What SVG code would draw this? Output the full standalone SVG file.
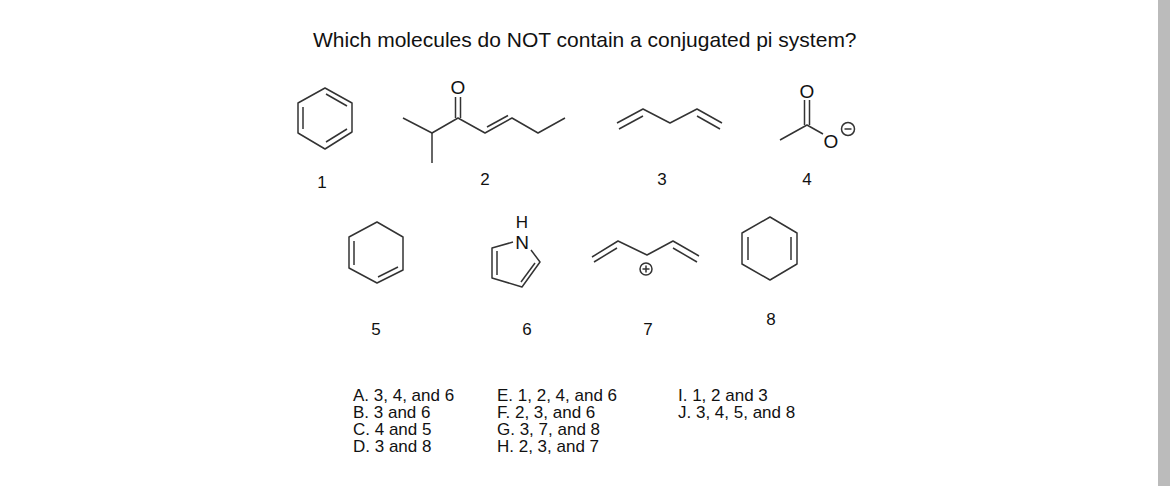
<svg xmlns="http://www.w3.org/2000/svg" width="1170" height="486" viewBox="0 0 1170 486">
<style>
.b{stroke:#333;stroke-width:1.5;fill:none;stroke-linejoin:round}
text{font-family:"Liberation Sans",Arial,sans-serif;fill:#111}
.t{font-size:21px}
.l{font-size:17px;text-anchor:middle}
.a{font-size:17px}
.at{font-size:19px;text-anchor:middle}
.hs{font-size:17px;text-anchor:middle}
</style>
<rect width="1170" height="486" fill="#fff"/>
<rect x="1158" y="0" width="12" height="486" fill="#bbb"/>
<text class="t" x="313" y="47">Which molecules do NOT contain a conjugated pi system?</text>
<g id="m1" class="b">
<polygon points="325,88 352,103 352,132 325,149 298,133 298,103"/>
<line x1="303" y1="107" x2="303" y2="129"/><line x1="326" y1="94" x2="347" y2="106"/><line x1="347" y1="129" x2="326" y2="142"/>
</g>
<text class="l" x="322" y="188">1</text>
<g id="m2">
<polyline class="b" points="403,118 432,133 458,118 485,133 512,118 538,133 565,118"/>
<line class="b" x1="432" y1="133" x2="432" y2="163"/>
<line class="b" x1="455.5" y1="118" x2="455.5" y2="97"/><line class="b" x1="460.5" y1="118" x2="460.5" y2="97"/>
<line class="b" x1="487" y1="127" x2="508" y2="115.5"/>
<text class="at" x="458" y="94">O</text>
</g>
<text class="l" x="485" y="185">2</text>
<g id="m3">
<polyline class="b" points="617,123 643,109 670,123 697,109 722,123"/>
<line class="b" x1="619" y1="129" x2="643" y2="116"/><line class="b" x1="697" y1="116" x2="720" y2="129"/>
</g>
<text class="l" x="662" y="185">3</text>
<g id="m4">
<polyline class="b" points="780,140 807,125 823,134"/>
<line class="b" x1="804.5" y1="125" x2="804.5" y2="100"/><line class="b" x1="809.5" y1="125" x2="809.5" y2="100"/>
<text class="at" x="807" y="98">O</text>
<text class="at" x="831" y="148">O</text>
<circle class="b" cx="848" cy="129" r="6.5" stroke-width="1.2"/>
<line class="b" x1="844.5" y1="129" x2="851.5" y2="129" stroke-width="1.2"/>
</g>
<text class="l" x="807" y="185">4</text>
<g id="m5" class="b">
<polygon points="377,222 403,237 403,270 377,283 349,268 349,237"/>
<line x1="354" y1="241" x2="354" y2="265"/><line x1="398" y1="267" x2="378" y2="277"/>
</g>
<text class="l" x="376" y="335">5</text>
<g id="m6">
<polyline class="b" points="513,242 492,248 492,278 522,287 540,262 531,250"/>
<line class="b" x1="497" y1="251" x2="497" y2="275"/><line class="b" x1="535" y1="263" x2="521" y2="282"/>
<text class="at" x="522" y="249">N</text>
<text class="hs" x="522" y="228">H</text>
</g>
<text class="l" x="527" y="335">6</text>
<g id="m7">
<polyline class="b" points="592,257 618,241 647,255 673,241 699,256"/>
<line class="b" x1="594" y1="262" x2="617" y2="248"/><line class="b" x1="673" y1="248" x2="697" y2="262"/>
<circle class="b" cx="646" cy="269" r="6" stroke-width="1.2"/>
<line class="b" x1="642.5" y1="269" x2="649.5" y2="269" stroke-width="1.2"/><line class="b" x1="646" y1="265.5" x2="646" y2="272.5" stroke-width="1.2"/>
</g>
<text class="l" x="648" y="335">7</text>
<g id="m8" class="b">
<polygon points="770,217 797,233 797,264 770,280 742,264 742,233"/>
<line x1="748" y1="237" x2="748" y2="260"/><line x1="791" y1="237" x2="791" y2="260"/>
</g>
<text class="l" x="771" y="325">8</text>
<g id="answers" class="a">
<text x="353" y="401">A. 3, 4, and 6</text>
<text x="353" y="418">B. 3 and 6</text>
<text x="353" y="435">C. 4 and 5</text>
<text x="353" y="452">D. 3 and 8</text>
<text x="497" y="401">E. 1, 2, 4, and 6</text>
<text x="497" y="418">F. 2, 3, and 6</text>
<text x="497" y="435">G. 3, 7, and 8</text>
<text x="497" y="452">H. 2, 3, and 7</text>
<text x="678" y="401">I. 1, 2 and 3</text>
<text x="678" y="418">J. 3, 4, 5, and 8</text>
</g>
</svg>
